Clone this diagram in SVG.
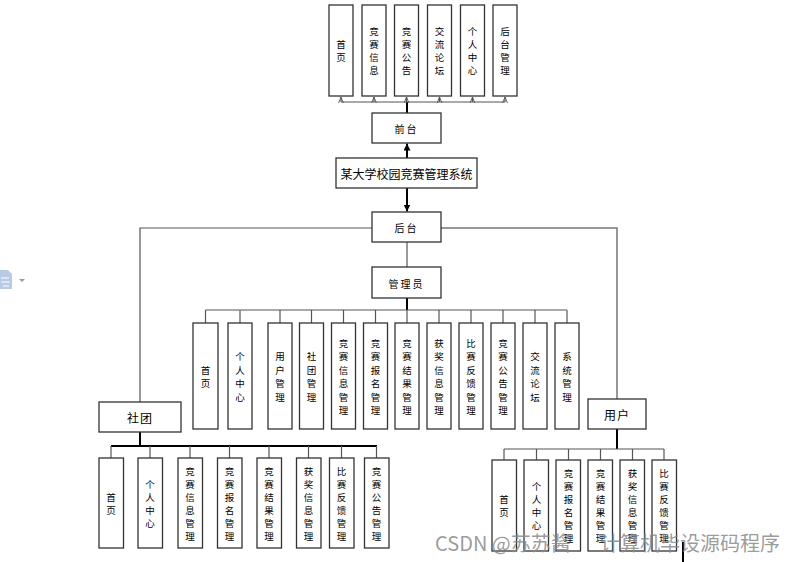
<svg xmlns="http://www.w3.org/2000/svg" width="794" height="562" viewBox="0 0 794 562">
<defs>
<style>
.box{fill:#fff;stroke:#333;stroke-width:1.3}
.t{font-family:"Noto Sans CJK SC","Liberation Sans",sans-serif;font-size:9.5px;fill:#000;text-anchor:middle;dominant-baseline:central}
.lbl{font-family:"Noto Sans CJK SC","Liberation Sans",sans-serif;fill:#000;text-anchor:middle;dominant-baseline:central}
.c{stroke:#555;stroke-width:1.2;fill:none}
.k{stroke:#000;stroke-width:2;fill:none}
.g{stroke:#777;stroke-width:1.5;fill:none}
.wm{font-family:"Noto Sans CJK SC","Liberation Sans",sans-serif;font-size:20px;fill:#8a8a8a;fill-opacity:0.85}
</style>
<marker id="fa" viewBox="0 0 10 10" refX="10" refY="5" markerWidth="7" markerHeight="7" orient="auto" markerUnits="userSpaceOnUse">
<path d="M0,0 L10,5 L0,10 z" fill="#000"/>
</marker>
<marker id="oa" viewBox="0 0 10 10" refX="10" refY="5" markerWidth="6" markerHeight="6" orient="auto" markerUnits="userSpaceOnUse">
<path d="M0,1 L10,5 L0,9" fill="none" stroke="#555" stroke-width="1.5"/>
</marker>
</defs>
<rect width="794" height="562" fill="#fff"/>

<g id="icon">
<path d="M0,270 h8 l4,4 v15 h-12 z" fill="#b8cbe6"/>
<path d="M1,278 h8 M1,282 h9 M3,286 h6" stroke="#fff" stroke-width="1"/>
<path d="M19,279 h6 l-3,3 z" fill="#999"/>
</g>

<g id="connectors">
<line x1="407" y1="158" x2="407" y2="143.5" class="k" stroke-width="1.5" marker-end="url(#fa)"/>
<line x1="407" y1="188" x2="407" y2="211.5" class="k" stroke-width="1.5" marker-end="url(#fa)"/>
<line x1="407" y1="113" x2="407" y2="102" class="k"/>
<line x1="341" y1="102" x2="505" y2="102" class="c"/>
<line x1="341" y1="102" x2="341" y2="97" class="c" marker-end="url(#oa)"/>
<line x1="374" y1="102" x2="374" y2="97" class="c" marker-end="url(#oa)"/>
<line x1="406.5" y1="102" x2="406.5" y2="97" class="c" marker-end="url(#oa)"/>
<line x1="439.5" y1="102" x2="439.5" y2="97" class="c" marker-end="url(#oa)"/>
<line x1="472.5" y1="102" x2="472.5" y2="97" class="c" marker-end="url(#oa)"/>
<line x1="505" y1="102" x2="505" y2="97" class="c" marker-end="url(#oa)"/>
<polyline points="372,228 140,228 140,402" class="c" stroke="#222"/>
<polyline points="441,228 617,228 617,399" class="g"/>
<line x1="407" y1="242" x2="407" y2="267" class="c" stroke="#222"/>
<line x1="407" y1="298" x2="407" y2="310" class="k"/>
<line x1="205.5" y1="310" x2="567" y2="310" class="c" stroke="#222"/>
<line x1="205.5" y1="310" x2="205.5" y2="323" class="c"/>
<line x1="240" y1="310" x2="240" y2="323" class="g"/>
<line x1="280" y1="310" x2="280" y2="323" class="c"/>
<line x1="311.5" y1="310" x2="311.5" y2="323" class="c"/>
<line x1="343.5" y1="310" x2="343.5" y2="323" class="c"/>
<line x1="375.5" y1="310" x2="375.5" y2="323" class="c"/>
<line x1="407" y1="310" x2="407" y2="323" class="c"/>
<line x1="439" y1="310" x2="439" y2="323" class="c"/>
<line x1="471" y1="310" x2="471" y2="323" class="c"/>
<line x1="503" y1="310" x2="503" y2="323" class="c"/>
<line x1="535" y1="310" x2="535" y2="323" class="c"/>
<line x1="567" y1="310" x2="567" y2="323" class="g"/>
<line x1="140" y1="432" x2="140" y2="446" class="k"/>
<line x1="111" y1="446" x2="377" y2="446" class="k" stroke-width="1.6"/>
<line x1="111" y1="446" x2="111" y2="458" class="c"/>
<line x1="150" y1="446" x2="150" y2="458" class="c"/>
<line x1="190" y1="446" x2="190" y2="458" class="c"/>
<line x1="229.5" y1="446" x2="229.5" y2="458" class="c"/>
<line x1="269" y1="446" x2="269" y2="458" class="c"/>
<line x1="308.5" y1="446" x2="308.5" y2="458" class="c"/>
<line x1="341.5" y1="446" x2="341.5" y2="458" class="c"/>
<line x1="376.5" y1="446" x2="376.5" y2="458" class="c"/>
<line x1="617" y1="429" x2="617" y2="449" class="k"/>
<line x1="504" y1="449" x2="664" y2="449" class="c" stroke="#222"/>
<line x1="504" y1="449" x2="504" y2="460" class="c"/>
<line x1="536.5" y1="449" x2="536.5" y2="460" class="c"/>
<line x1="568.5" y1="449" x2="568.5" y2="460" class="c"/>
<line x1="600.5" y1="449" x2="600.5" y2="460" class="c"/>
<line x1="632.5" y1="449" x2="632.5" y2="460" class="c"/>
<line x1="664" y1="449" x2="664" y2="460" class="c"/>
<line x1="683" y1="542" x2="683" y2="562" class="k"/>
</g>

<g id="system"><rect class="box" x="336" y="158" width="141" height="30"/><text class="lbl" x="406.5" y="173" font-size="12">某大学校园竞赛管理系统</text></g>
<g id="qiantai"><rect class="box" x="372" y="113" width="69" height="30"/><text class="lbl" x="406.5" y="128" font-size="10" letter-spacing="2">前台</text></g>
<g id="houtai"><rect class="box" x="372" y="212" width="69" height="30"/><text class="lbl" x="406.5" y="227" font-size="10" letter-spacing="2">后台</text></g>
<g id="admin"><rect class="box" x="372" y="267" width="69" height="31"/><text class="lbl" x="406.5" y="283" font-size="10" letter-spacing="2">管理员</text></g>
<g id="club"><rect class="box" x="99" y="402" width="82" height="30"/><text class="lbl" x="140" y="417" font-size="12" letter-spacing="1">社团</text></g>
<g id="user"><rect class="box" x="588" y="399" width="58" height="30"/><text class="lbl" x="617" y="414" font-size="12" letter-spacing="1">用户</text></g>

<g id="f1"><rect class="box" x="329" y="5" width="24" height="91"/><text class="t"><tspan x="341" y="44">首</tspan><tspan x="341" y="57">页</tspan></text></g>
<g id="f2"><rect class="box" x="362" y="5" width="24" height="91"/><text class="t"><tspan x="374" y="31">竞</tspan><tspan x="374" y="44">赛</tspan><tspan x="374" y="57">信</tspan><tspan x="374" y="70">息</tspan></text></g>
<g id="f3"><rect class="box" x="394.5" y="5" width="24" height="91"/><text class="t"><tspan x="406.5" y="31">竞</tspan><tspan x="406.5" y="44">赛</tspan><tspan x="406.5" y="57">公</tspan><tspan x="406.5" y="70">告</tspan></text></g>
<g id="f4"><rect class="box" x="427.5" y="5" width="24" height="91"/><text class="t"><tspan x="439.5" y="31">交</tspan><tspan x="439.5" y="44">流</tspan><tspan x="439.5" y="57">论</tspan><tspan x="439.5" y="70">坛</tspan></text></g>
<g id="f5"><rect class="box" x="460.5" y="5" width="24" height="91"/><text class="t"><tspan x="472.5" y="31">个</tspan><tspan x="472.5" y="44">人</tspan><tspan x="472.5" y="57">中</tspan><tspan x="472.5" y="70">心</tspan></text></g>
<g id="f6"><rect class="box" x="493" y="5" width="24" height="91"/><text class="t"><tspan x="505" y="31">后</tspan><tspan x="505" y="44">台</tspan><tspan x="505" y="57">管</tspan><tspan x="505" y="70">理</tspan></text></g>

<g id="a1"><rect class="box" x="193" y="323" width="25" height="106"/><text class="t"><tspan x="205.5" y="369.5">首</tspan><tspan x="205.5" y="383">页</tspan></text></g>
<g id="a2"><rect class="box" x="228" y="323" width="24" height="106"/><text class="t"><tspan x="240" y="356">个</tspan><tspan x="240" y="369.5">人</tspan><tspan x="240" y="383">中</tspan><tspan x="240" y="396.5">心</tspan></text></g>
<g id="a3"><rect class="box" x="268" y="323" width="24" height="106"/><text class="t"><tspan x="280" y="356">用</tspan><tspan x="280" y="369.5">户</tspan><tspan x="280" y="383">管</tspan><tspan x="280" y="396.5">理</tspan></text></g>
<g id="a4"><rect class="box" x="299.5" y="323" width="24" height="106"/><text class="t"><tspan x="311.5" y="356">社</tspan><tspan x="311.5" y="369.5">团</tspan><tspan x="311.5" y="383">管</tspan><tspan x="311.5" y="396.5">理</tspan></text></g>
<g id="a5"><rect class="box" x="331.5" y="323" width="24" height="106"/><text class="t"><tspan x="343.5" y="342.5">竞</tspan><tspan x="343.5" y="356">赛</tspan><tspan x="343.5" y="369.5">信</tspan><tspan x="343.5" y="383">息</tspan><tspan x="343.5" y="396.5">管</tspan><tspan x="343.5" y="410">理</tspan></text></g>
<g id="a6"><rect class="box" x="363.5" y="323" width="24" height="106"/><text class="t"><tspan x="375.5" y="342.5">竞</tspan><tspan x="375.5" y="356">赛</tspan><tspan x="375.5" y="369.5">报</tspan><tspan x="375.5" y="383">名</tspan><tspan x="375.5" y="396.5">管</tspan><tspan x="375.5" y="410">理</tspan></text></g>
<g id="a7"><rect class="box" x="395" y="323" width="24" height="106"/><text class="t"><tspan x="407" y="342.5">竞</tspan><tspan x="407" y="356">赛</tspan><tspan x="407" y="369.5">结</tspan><tspan x="407" y="383">果</tspan><tspan x="407" y="396.5">管</tspan><tspan x="407" y="410">理</tspan></text></g>
<g id="a8"><rect class="box" x="427" y="323" width="24" height="106"/><text class="t"><tspan x="439" y="342.5">获</tspan><tspan x="439" y="356">奖</tspan><tspan x="439" y="369.5">信</tspan><tspan x="439" y="383">息</tspan><tspan x="439" y="396.5">管</tspan><tspan x="439" y="410">理</tspan></text></g>
<g id="a9"><rect class="box" x="459" y="323" width="24" height="106"/><text class="t"><tspan x="471" y="342.5">比</tspan><tspan x="471" y="356">赛</tspan><tspan x="471" y="369.5">反</tspan><tspan x="471" y="383">馈</tspan><tspan x="471" y="396.5">管</tspan><tspan x="471" y="410">理</tspan></text></g>
<g id="a10"><rect class="box" x="491" y="323" width="24" height="106"/><text class="t"><tspan x="503" y="342.5">竞</tspan><tspan x="503" y="356">赛</tspan><tspan x="503" y="369.5">公</tspan><tspan x="503" y="383">告</tspan><tspan x="503" y="396.5">管</tspan><tspan x="503" y="410">理</tspan></text></g>
<g id="a11"><rect class="box" x="523" y="323" width="24" height="106"/><text class="t"><tspan x="535" y="356">交</tspan><tspan x="535" y="369.5">流</tspan><tspan x="535" y="383">论</tspan><tspan x="535" y="396.5">坛</tspan></text></g>
<g id="a12"><rect class="box" x="555" y="323" width="24" height="106"/><text class="t"><tspan x="567" y="356">系</tspan><tspan x="567" y="369.5">统</tspan><tspan x="567" y="383">管</tspan><tspan x="567" y="396.5">理</tspan></text></g>

<g id="c1"><rect class="box" x="99" y="458" width="24.5" height="90"/><text class="t"><tspan x="111" y="497">首</tspan><tspan x="111" y="510">页</tspan></text></g>
<g id="c2"><rect class="box" x="138" y="458" width="24.5" height="90"/><text class="t"><tspan x="150" y="484">个</tspan><tspan x="150" y="497">人</tspan><tspan x="150" y="510">中</tspan><tspan x="150" y="523">心</tspan></text></g>
<g id="c3"><rect class="box" x="178" y="458" width="24.5" height="90"/><text class="t"><tspan x="190" y="471">竞</tspan><tspan x="190" y="484">赛</tspan><tspan x="190" y="497">信</tspan><tspan x="190" y="510">息</tspan><tspan x="190" y="523">管</tspan><tspan x="190" y="536">理</tspan></text></g>
<g id="c4"><rect class="box" x="217.5" y="458" width="24.5" height="90"/><text class="t"><tspan x="229.5" y="471">竞</tspan><tspan x="229.5" y="484">赛</tspan><tspan x="229.5" y="497">报</tspan><tspan x="229.5" y="510">名</tspan><tspan x="229.5" y="523">管</tspan><tspan x="229.5" y="536">理</tspan></text></g>
<g id="c5"><rect class="box" x="257" y="458" width="24.5" height="90"/><text class="t"><tspan x="269" y="471">竞</tspan><tspan x="269" y="484">赛</tspan><tspan x="269" y="497">结</tspan><tspan x="269" y="510">果</tspan><tspan x="269" y="523">管</tspan><tspan x="269" y="536">理</tspan></text></g>
<g id="c6"><rect class="box" x="296.5" y="458" width="24.5" height="90"/><text class="t"><tspan x="308.5" y="471">获</tspan><tspan x="308.5" y="484">奖</tspan><tspan x="308.5" y="497">信</tspan><tspan x="308.5" y="510">息</tspan><tspan x="308.5" y="523">管</tspan><tspan x="308.5" y="536">理</tspan></text></g>
<g id="c7"><rect class="box" x="329.5" y="458" width="24.5" height="90"/><text class="t"><tspan x="341.5" y="471">比</tspan><tspan x="341.5" y="484">赛</tspan><tspan x="341.5" y="497">反</tspan><tspan x="341.5" y="510">馈</tspan><tspan x="341.5" y="523">管</tspan><tspan x="341.5" y="536">理</tspan></text></g>
<g id="c8"><rect class="box" x="364.5" y="458" width="24.5" height="90"/><text class="t"><tspan x="376.5" y="471">竞</tspan><tspan x="376.5" y="484">赛</tspan><tspan x="376.5" y="497">公</tspan><tspan x="376.5" y="510">告</tspan><tspan x="376.5" y="523">管</tspan><tspan x="376.5" y="536">理</tspan></text></g>

<g id="u1"><rect class="box" x="492" y="460" width="24.5" height="91"/><text class="t"><tspan x="504" y="498.5">首</tspan><tspan x="504" y="511.5">页</tspan></text></g>
<g id="u2"><rect class="box" x="524" y="460" width="24.5" height="91"/><text class="t"><tspan x="536.5" y="485.5">个</tspan><tspan x="536.5" y="498.5">人</tspan><tspan x="536.5" y="511.5">中</tspan><tspan x="536.5" y="524.5">心</tspan></text></g>
<g id="u3"><rect class="box" x="556" y="460" width="24.5" height="91"/><text class="t"><tspan x="568.5" y="472.5">竞</tspan><tspan x="568.5" y="485.5">赛</tspan><tspan x="568.5" y="498.5">报</tspan><tspan x="568.5" y="511.5">名</tspan><tspan x="568.5" y="524.5">管</tspan><tspan x="568.5" y="537.5">理</tspan></text></g>
<g id="u4"><rect class="box" x="588" y="460" width="24.5" height="91"/><text class="t"><tspan x="600.5" y="472.5">竞</tspan><tspan x="600.5" y="485.5">赛</tspan><tspan x="600.5" y="498.5">结</tspan><tspan x="600.5" y="511.5">果</tspan><tspan x="600.5" y="524.5">管</tspan><tspan x="600.5" y="537.5">理</tspan></text></g>
<g id="u5"><rect class="box" x="620" y="460" width="24.5" height="91"/><text class="t"><tspan x="632.5" y="472.5">获</tspan><tspan x="632.5" y="485.5">奖</tspan><tspan x="632.5" y="498.5">信</tspan><tspan x="632.5" y="511.5">息</tspan><tspan x="632.5" y="524.5">管</tspan><tspan x="632.5" y="537.5">理</tspan></text></g>
<g id="u6"><rect class="box" x="652" y="460" width="24.5" height="91"/><text class="t"><tspan x="664" y="472.5">比</tspan><tspan x="664" y="485.5">赛</tspan><tspan x="664" y="498.5">反</tspan><tspan x="664" y="511.5">馈</tspan><tspan x="664" y="524.5">管</tspan><tspan x="664" y="537.5">理</tspan></text></g>

<text class="wm" x="435" y="551">CSDN @苏苏酱<tspan x="600">计算机毕设源码程序</tspan></text>
</svg>
